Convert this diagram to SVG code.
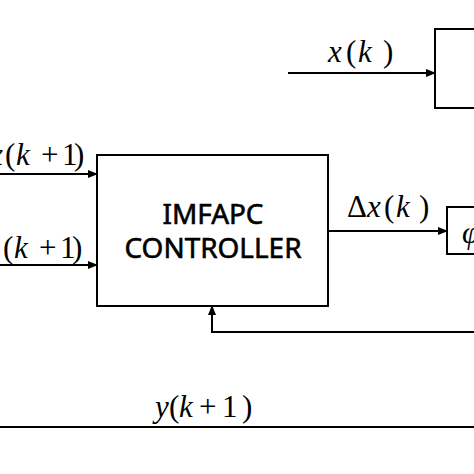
<svg xmlns="http://www.w3.org/2000/svg" width="474" height="474" viewBox="0 0 474 474">
<style>
.box{fill:#fff;stroke:#000;stroke-width:2}
.ln{fill:none;stroke:#000;stroke-width:2}
.m{font-family:"Liberation Serif","DejaVu Serif",serif;font-size:31px;fill:#000}
.i{font-style:italic}
.t{font-family:"Noto Sans","Liberation Sans",sans-serif;font-size:28px;fill:#000;stroke:#000;stroke-width:0.6}
</style>
<defs>
<marker id="ah" markerWidth="10" markerHeight="8" refX="9" refY="4" orient="auto" markerUnits="userSpaceOnUse">
<path d="M0,0 L10,4 L0,8 Z" fill="#000"/>
</marker>
</defs>
<rect width="474" height="474" fill="#fff"/>
<g id="connectors">
<line class="ln" x1="0" y1="174" x2="97" y2="174" marker-end="url(#ah)"/>
<line class="ln" x1="0" y1="265" x2="97" y2="265" marker-end="url(#ah)"/>
<line class="ln" x1="288" y1="73" x2="435" y2="73" marker-end="url(#ah)"/>
<line class="ln" x1="328" y1="231" x2="447" y2="231" marker-end="url(#ah)"/>
<polyline class="ln" points="474,332 212,332 212,306" marker-end="url(#ah)"/>
<line class="ln" x1="0" y1="427" x2="474" y2="427"/>
</g>
<g id="controller">
<rect class="box" x="97" y="155" width="231" height="151"/>
<text class="t" x="213" y="224" text-anchor="middle" textLength="101" lengthAdjust="spacingAndGlyphs">IMFAPC</text>
<text class="t" x="213" y="258" text-anchor="middle" textLength="177" lengthAdjust="spacingAndGlyphs">CONTROLLER</text>
</g>
<g id="block-top">
<rect class="box" x="435" y="29" width="45" height="79"/>
</g>
<g id="block-phi">
<rect class="box" x="447" y="207" width="40" height="47"/>
<text class="m i" x="462" y="243">φ</text>
</g>
<g id="labels">
<text class="m"><tspan class="i" x="-11" y="165">x</tspan><tspan x="5">(</tspan><tspan class="i" x="16">k</tspan><tspan x="41">+</tspan><tspan x="62">1</tspan><tspan x="74">)</tspan></text>
<text class="m"><tspan x="3" y="258">(</tspan><tspan class="i" x="14">k</tspan><tspan x="39">+</tspan><tspan x="60">1</tspan><tspan x="72">)</tspan></text>
<text class="m"><tspan class="i" x="328" y="62">x</tspan><tspan x="346">(</tspan><tspan class="i" x="358">k</tspan><tspan x="383">)</tspan></text>
<text class="m"><tspan x="347" y="217">Δ</tspan><tspan class="i" x="367">x</tspan><tspan x="384">(</tspan><tspan class="i" x="396">k</tspan><tspan x="419">)</tspan></text>
<text class="m"><tspan class="i" x="155" y="417">y</tspan><tspan x="169">(</tspan><tspan class="i" x="179">k</tspan><tspan x="199">+</tspan><tspan x="222">1</tspan><tspan x="242">)</tspan></text>
</g>
</svg>
